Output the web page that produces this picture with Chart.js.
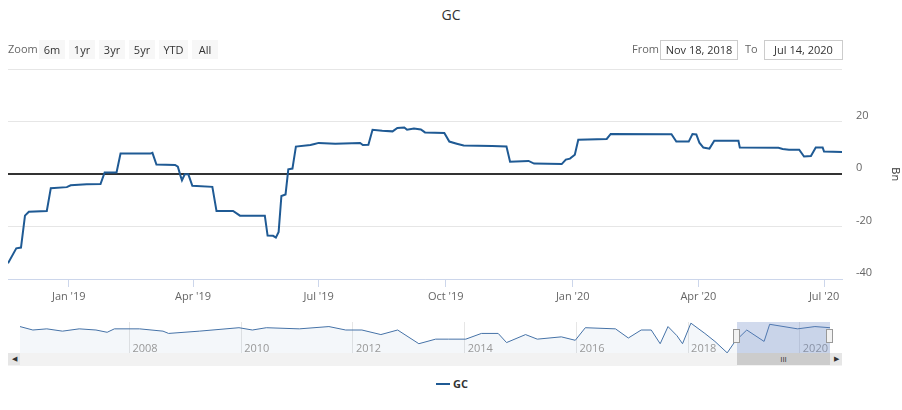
<!DOCTYPE html>
<html><head><meta charset="utf-8">
<script src="https://cdn.jsdelivr.net/npm/chart.js@4"></script>
<style>
body{margin:0;width:902px;height:410px;background:#fff;font-family:"Open Sans",sans-serif;position:relative;overflow:hidden}
.a{position:absolute}
.btn{position:absolute;top:40px;height:19px;background:#f7f7f7;font-size:11px;color:#333;line-height:19px;text-align:center}
.inp{position:absolute;top:40px;height:18px;border:1px solid #ccc;font-size:11px;color:#333;line-height:18px;text-align:center}
.lbl{position:absolute;top:41px;font-size:11px;color:#666}
</style></head><body>
<div class="a" style="left:0;top:49px;width:902px;height:261px"><canvas id="c"></canvas></div>
<div class="a" style="left:0;width:902px;top:5px;text-align:center;font-size:14px;color:#333">GC</div>
<div class="lbl" style="left:8px">Zoom</div>
<div class="btn" style="left:39px;width:26px">6m</div>
<div class="btn" style="left:69px;width:26px">1yr</div>
<div class="btn" style="left:99px;width:26px">3yr</div>
<div class="btn" style="left:129px;width:26px">5yr</div>
<div class="btn" style="left:159px;width:29px">YTD</div>
<div class="btn" style="left:192px;width:26px">All</div>
<div class="lbl" style="left:632px">From</div>
<div class="inp" style="left:660px;width:76px">Nov 18, 2018</div>
<div class="lbl" style="left:745px">To</div>
<div class="inp" style="left:764px;width:77px">Jul 14, 2020</div>
<div class="a" style="left:0;top:318px;width:902px;height:36px"><canvas id="n"></canvas></div>
<div class="a" style="left:8px;top:353px;width:834px;height:12px;background:#f2f2f2;border-top:1px solid #f2f2f2"></div>
<div class="a" style="left:8px;top:353px;width:12px;height:12px;background:#e6e6e6;font-size:7px;text-align:center;line-height:12px;color:#333">◀</div>
<div class="a" style="left:830px;top:353px;width:12px;height:12px;background:#e6e6e6;font-size:7px;text-align:center;line-height:12px;color:#333">▶</div>
<div class="a" style="left:737px;top:353px;width:93px;height:12px;background:#ccc;font-size:8px;text-align:center;line-height:12px;color:#333">III</div>
<div class="a" style="left:737px;top:322px;width:93px;height:31px;background:rgba(102,133,194,0.3)"></div>
<div class="a" style="left:733px;top:329px;width:7px;height:14px;background:#f2f2f2;border:1px solid #999;box-sizing:border-box"></div>
<div class="a" style="left:826px;top:329px;width:7px;height:14px;background:#f2f2f2;border:1px solid #999;box-sizing:border-box"></div>
<div class="a" style="left:436px;top:383px;width:14px;height:2px;background:#1f5a94"></div>
<div class="a" style="left:453px;top:376px;font-size:11px;font-weight:bold;color:#333">GC</div>
<script>
// days since 2019-01-01
const days=[-44,-38,-34.6,-31.7,-28.9,-15.9,-13,-1.4,1.4,13,23,26,34.6,37.5,59,60.6,63.5,77,79,81,82,84,86.6,89.5,104,107,119,124,142,144,148,150,152,154,157,159,162,164.5,175,178,181,193,211,213,217,220,227,234.5,238,243,245,250,255,258,272,275.6,281,286,306.6,317,319.6,333,337,357,360,363,366.5,369,389.6,392.5,436.5,440,449,451.7,454.5,456.7,459.6,464,467.5,485,486,514,517,521.6,529,532.5,537.5,541,546,547,560];
const gc=[-34,-28.3,-28,-15.8,-14.3,-14,-5.3,-4.9,-4.2,-3.8,-3.7,0.7,0.7,7.9,7.9,8.2,3.7,3.6,2.9,-0.7,-2.3,0,0,-4.4,-4.8,-14,-14,-15.8,-15.8,-23.4,-23.5,-24.2,-22,-8.3,-7.7,1.9,2.2,10.6,11.2,11.6,12,11.7,12,11.2,11.3,17,16.6,16.4,17.7,17.9,17,17.5,17.1,16,15.8,12.5,11.7,11,10.8,10.6,4.8,5.1,4.1,3.9,5.6,6,7.5,13.2,13.5,15.4,15.3,12.5,12.5,15.4,15.2,12.1,10.2,9.8,12.8,12.8,10.2,10.1,9.7,9.4,9.4,6.8,7,10.2,10.2,8.7,8.5];
const tickDays=[0,90,181,273,365,456,547];
const tickLabels=["Jan '19","Apr '19","Jul '19","Oct '19","Jan '20","Apr '20","Jul '20"];
const yTicks=[-40,-20,0,20,40];
const navYears=[2006.04,2006.27,2006.52,2006.8,2007.1,2007.4,2007.6,2007.73,2008.18,2008.6,2008.7,2009.25,2009.96,2010.2,2010.45,2011.04,2011.57,2011.87,2012.16,2012.5,2012.8,2013.18,2013.48,2013.71,2014.02,2014.3,2014.6,2014.75,2015.09,2015.3,2015.73,2015.98,2016.16,2016.7,2016.93,2017.16,2017.34,2017.5,2017.64,2017.8,2017.9,2018.05,2018.3,2018.48,2018.7,2018.84,2019.05,2019.36,2019.46,2019.96,2020.27,2020.54];
const navVals=[12,6,8,4,8,6,2,8,8,4,0,4,10,6,10,8,12,6,6,-2,6,-18,-10,-10,-10,0,0,-16,-2,-10,-6,-12,10,8,-8,6,6,-18,12,-4,-18,18,0,-14,-34,-14,6,-14,16,8,12,10];
const navTicks=[2008,2010,2012,2014,2016,2018,2020];
const F='"Open Sans",sans-serif';
new Chart(document.getElementById('c'),{type:'line',
data:{datasets:[{data:days.map((d,i)=>({x:d,y:gc[i]})),borderColor:'#1f5a94',borderWidth:2,pointRadius:0,tension:0}]},
options:{responsive:true,maintainAspectRatio:false,animation:false,layout:{padding:{left:8,top:0}},
plugins:{legend:{display:false},tooltip:{enabled:false}},
scales:{x:{type:'linear',min:-44,max:560,afterBuildTicks:s=>{s.ticks=tickDays.map(v=>({value:v}))},afterFit:s=>{s.height=31},
 ticks:{callback:(v)=>tickLabels[tickDays.indexOf(v)],color:'#666',font:{family:F,size:11},maxRotation:0,autoSkip:false},
 grid:{drawOnChartArea:false,tickLength:8,color:'#ccd6eb'},border:{color:'#ccd6eb'}},
y:{position:'right',min:-40,max:40,afterBuildTicks:s=>{s.ticks=yTicks.map(v=>({value:v}))},afterFit:s=>{s.width=60},
 ticks:{callback:v=>v==40?'':v,color:'#666',font:{family:F,size:11},labelOffset:-6,padding:14},
 grid:{color:c=>c.tick&&c.tick.value===0?'#333':'#e6e6e6',lineWidth:c=>c.tick&&c.tick.value===0?2:1,drawTicks:false},border:{display:false},
 title:{display:true,text:'Bn',color:'#333',font:{family:F,size:11},padding:{top:0,bottom:0}}}}}});
new Chart(document.getElementById('n'),{type:'line',
data:{datasets:[{data:navYears.map((d,i)=>({x:d,y:navVals[i]})),borderColor:'#4572a7',borderWidth:1,pointRadius:0,fill:'start',backgroundColor:'rgba(69,114,167,0.06)'}]},
options:{responsive:true,maintainAspectRatio:false,animation:false,layout:{padding:{left:20,right:72,top:4,bottom:0}},
plugins:{legend:{display:false},tooltip:{enabled:false}},
scales:{x:{type:'linear',min:2006.04,max:2020.54,afterBuildTicks:s=>{s.ticks=navTicks.map(v=>({value:v}))},
 ticks:{display:false},grid:{color:'#e6e6e6',drawTicks:false},border:{display:false}},
y:{display:false,min:-36,max:20}}},
plugins:[{id:'lab',afterDraw(ch){const x=ch.scales.x,ctx=ch.ctx;ctx.save();ctx.fillStyle='#999';ctx.font='11px '+F;navTicks.forEach(v=>{ctx.fillText(String(v),x.getPixelForValue(v)+3,ch.chartArea.bottom-2)});ctx.restore();}}]});
</script></body></html>
